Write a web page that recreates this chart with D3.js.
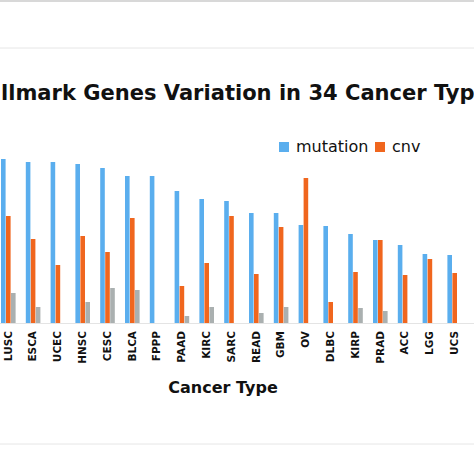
<!DOCTYPE html>
<html><head><meta charset="utf-8">
<script src="https://cdn.jsdelivr.net/npm/d3@7"></script>
<style>body{margin:0;background:#fff}</style>
</head><body>
<script>
/* DATA */
var categories = ['LUSC','ESCA','UCEC','HNSC','CESC','BLCA','FPPP','PAAD','KIRC','SARC','READ','GBM','OV','DLBC','KIRP','PRAD','ACC','LGG','UCS'];
var mutation = [164,161,161,159,155,147,147,132,124,122,110,110,98,97,89,83,78,69,68];
var cnv      = [107,84,58,87,71,105,0,37,60,107,49,96,145,21,51,83,48,64,50];
var other    = [30,16,0,21,35,33,0,7,16,0,10,16,0,0,15,12,0,0,0];
var series = ['mutation','cnv','other'];

var w = 474, h = 474, base = 323;
var c = { mutation: '#5aaeee', cnv: '#f0661e', other: '#aab0b0' };
var font = '"DejaVu Sans", sans-serif';

var svg = d3.select('body').append('svg').attr('width', w).attr('height', h)
  .style('font-family', font);

/* FRAME */
svg.append('rect').attr('width', w).attr('height', 2).attr('fill', '#d8d8d8');
svg.append('line').attr('x1', 0).attr('x2', w).attr('y1', 48).attr('y2', 48).attr('stroke', '#e6e6e6');
svg.append('line').attr('x1', 0).attr('x2', w).attr('y1', 444).attr('y2', 444).attr('stroke', '#e6e6e6');

/* TITLE (cropped on both sides like the source) */
var tstr = 'Hallmark Genes Variation in 34 Cancer Types';
var title = svg.append('text').attr('y', 100).attr('font-size', 20).attr('font-weight', 'bold')
  .attr('fill', '#111').text(tstr);
var n0 = title.node();
var visLen = n0.getSubStringLength(2, tstr.length - 4);
var fs = 20 * 474 / visLen;
title.attr('font-size', fs);
title.attr('x', 1 - n0.getSubStringLength(0, 2));

/* SCALES */
var x = d3.scaleBand().domain(categories).range([-4.4, 466.8]).padding(0);
var y = d3.scaleLinear().domain([0, 164]).range([base, 159]);
var bw = 4.6;
var offs = { mutation: -7, cnv: -2, other: 3 };
var vals = { mutation: mutation, cnv: cnv, other: other };

series.forEach(function(s){
  svg.append('g').selectAll('rect').data(categories).enter().append('rect')
    .attr('x', function(d){ return x(d) + x.bandwidth()/2 + offs[s]; })
    .attr('y', function(d, i){ return y(vals[s][i]); })
    .attr('width', bw)
    .attr('height', function(d, i){ return base - y(vals[s][i]); })
    .attr('fill', c[s]);
});

svg.append('line').attr('x1', 0).attr('x2', 474).attr('y1', base + 0.5).attr('y2', base + 0.5).attr('stroke', '#e4e4e4');

/* AXIS LABELS */
var ax = svg.append('g').attr('transform', 'translate(0,' + (base + 8) + ')')
  .call(d3.axisBottom(x).tickSize(0).tickPadding(0));
ax.select('.domain').remove();
ax.selectAll('text').attr('transform', 'rotate(-90)').attr('text-anchor', 'end')
  .attr('dx', 0).attr('dy', '0.35em').attr('y', 0).attr('x', 0)
  .attr('font-size', 10.5).attr('font-weight', 'bold').attr('fill', '#111')
  .style('font-family', font);

svg.append('text').attr('x', 223).attr('y', 393).attr('text-anchor', 'middle')
  .attr('font-size', 16).attr('font-weight', 'bold').attr('fill', '#111').text('Cancer Type');

/* LEGEND */
var leg = [{k:'mutation', x:279}, {k:'cnv', x:375}];
leg.forEach(function(l){
  svg.append('rect').attr('x', l.x).attr('y', 142).attr('width', 10).attr('height', 10).attr('fill', c[l.k]);
  svg.append('text').attr('x', l.x + 17).attr('y', 152).attr('font-size', 16).attr('fill', '#111').text(l.k);
});
</script>
</body></html>
